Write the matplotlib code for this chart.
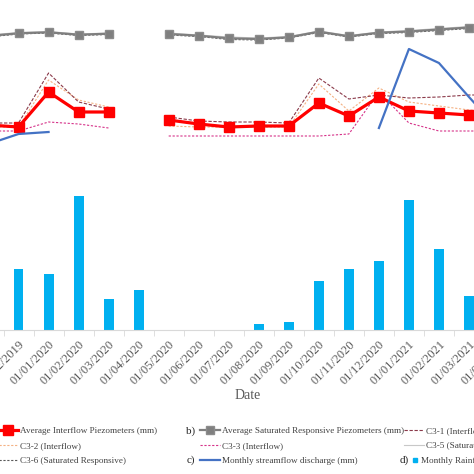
import numpy as np
import matplotlib
matplotlib.use("Agg")
import matplotlib.pyplot as plt
from matplotlib.lines import Line2D

nan = np.nan
dates = ["01/11/2019", "01/12/2019", "01/01/2020", "01/02/2020", "01/03/2020", "01/04/2020",
         "01/05/2020", "01/06/2020", "01/07/2020", "01/08/2020", "01/09/2020", "01/10/2020",
         "01/11/2020", "01/12/2020", "01/01/2021", "01/02/2021", "01/03/2021", "01/04/2021"]

avg_interflow = [25, 23, 58, 38, 38, nan, 30, 26, 23, 24, 24, 47, 34, 53, 39, 37, 35, 35]
avg_saturated = [114, 116.7, 117.7, 115.3, 116.3, nan, 116, 114.3, 111.7, 111, 112.7, 118.3,
                 113.7, 117.3, 118.5, 120.5, 122.5, 123.5]
c3_1 = [27, 27, 77, 48, 41, nan, 33, 29, 28, 28, 27, 72, 51, 55, 52, 53, 55, 55]
c3_2 = [23, 23, 70, 50, 43, nan, 24, 23, 23, 23, 23, 66, 39, 62, 48, 44, 40, 38]
c3_3 = [19, 19, 28, 26, 22, nan, 14, 14, 14, 14, 14, 14, 16, 58, 27, 19, 19, 19]
c3_5 = [115, 117.5, 118.5, 116, 117, nan, 117, 115, 113, 112, 113.5, 119, 114.5, 118, 119.5,
        121.5, 123.5, 124.5]
c3_6 = [113, 116, 117, 114.5, 115.5, nan, 115, 113.5, 110.5, 110, 112, 117.5, 113, 116.5,
        117.5, 119.5, 121.5, 122.5]
streamflow = [6, 16, 18, nan, nan, nan, nan, nan, nan, nan, nan, nan, nan, 22, 101, 87, 53, 20]
rainfall = [nan, 122, 112, 268, 62, 80, 1, 0.6, 0, 12, 16, 98, 122, 138, 260, 162, 68, nan]

W = H = 474
fig = plt.figure(figsize=(W / 100, H / 100), dpi=100)
serif = ["Liberation Serif", "DejaVu Serif"]
x = np.arange(len(dates))

# axes extend past the figure edges (the reference is a crop)
px0, pxstep = -11.5, 30.03
left_px = px0 - 0.5 * pxstep
width_px = pxstep * len(dates)

def fx(p):
    return p / W

def fy(p):
    return 1 - p / H

# bar panel
ax = fig.add_axes([fx(left_px), fy(330), fx(width_px), 150 / H])
ax.bar(x, rainfall, width=0.33, color="#00B0F0", zorder=2)
ax.set_xlim(-0.5, len(dates) - 0.5)
ax.set_ylim(0, 300)
for s in ["top", "right", "left"]:
    ax.spines[s].set_visible(False)
ax.spines["bottom"].set_color("#D9D9D9")
ax.set_yticks([])
ax.set_xticks(x)
ax.set_xticklabels(dates, rotation=45, ha="right", rotation_mode="anchor",
                   fontsize=9.0, color="#595959", family=serif)
ax.tick_params(axis="x", length=0, pad=6)
ax.set_xticks(x[:-1] + 0.5, minor=True)
ax.tick_params(axis="x", which="minor", length=4, color="#D9D9D9")
ax.set_xlabel("Date", fontsize=10, color="#595959", family=serif)
ax.xaxis.set_label_coords(fx(248 - left_px) / fx(width_px), -59 / 150)

# line panel
axl = fig.add_axes([fx(left_px), fy(150), fx(width_px), 150 / H])
axl.set_xlim(-0.5, len(dates) - 0.5)
axl.set_ylim(0, 150)
axl.axis("off")
l_c35, = axl.plot(x, c3_5, color="#C8C8C8", lw=0.8)
l_c36, = axl.plot(x, c3_6, color="#595959", lw=0.8, ls=(0, (2, 1.5)))
l_sat, = axl.plot(x, avg_saturated, color="#7F7F7F", lw=1.6, marker="s", ms=5.2,
                  mfc="#7F7F7F", mec="#8C8C8C")
l_c32, = axl.plot(x, c3_2, color="#F4B183", lw=0.8, ls=(0, (2, 1.5)))
l_c31, = axl.plot(x, c3_1, color="#8B3A4A", lw=0.8, ls=(0, (3, 1.5)))
l_c33, = axl.plot(x, c3_3, color="#D6338A", lw=0.8, ls=(0, (2, 1.5)))
l_int, = axl.plot(x, avg_interflow, color="#FF0000", lw=2.3, marker="s", ms=6.8,
                  mfc="#FF0000", mec="#FF0000")
l_flow, = axl.plot(x, streamflow, color="#4472C4", lw=1.6)
rain_h = Line2D([], [], marker="s", ls="none", color="#00B0F0", ms=3.5)

legkw = dict(loc="upper left", frameon=False, borderpad=0, borderaxespad=0,
             handlelength=2.2, handletextpad=0.25, labelspacing=0.72,
             prop={"family": serif, "size": 6.6}, labelcolor="#404040")
top = 427
fig.legend([l_int, l_c32, l_c36],
           ["Average Interflow Piezometers (mm)", "C3-2 (Interflow)",
            "C3-6 (Saturated Responsive)"], bbox_to_anchor=(fx(-2), fy(top)), **legkw)
fig.legend([l_sat, l_c33, l_flow],
           ["Average Saturated Responsive Piezometers (mm)", "C3-3 (Interflow)",
            "Monthly streamflow discharge (mm)"], bbox_to_anchor=(fx(200), fy(top)), **legkw)
fig.legend([l_c31, l_c35], ["C3-1 (Interflow)", "C3-5 (Saturated Responsive)"],
           bbox_to_anchor=(fx(404), fy(top)), **legkw)
kw2 = dict(legkw)
kw2["handlelength"] = 0.8
fig.legend([rain_h], ["Monthly Rainfall (mm)"], bbox_to_anchor=(fx(411), fy(top + 29.5)), **kw2)

for t, px, py in [("b)", 191, 431), ("c)", 191, 460), ("d)", 404, 460)]:
    fig.text(fx(px), fy(py), t, ha="center", va="center", fontsize=8,
             color="#262626", family=serif)

fig.savefig("out.png", dpi=100)
